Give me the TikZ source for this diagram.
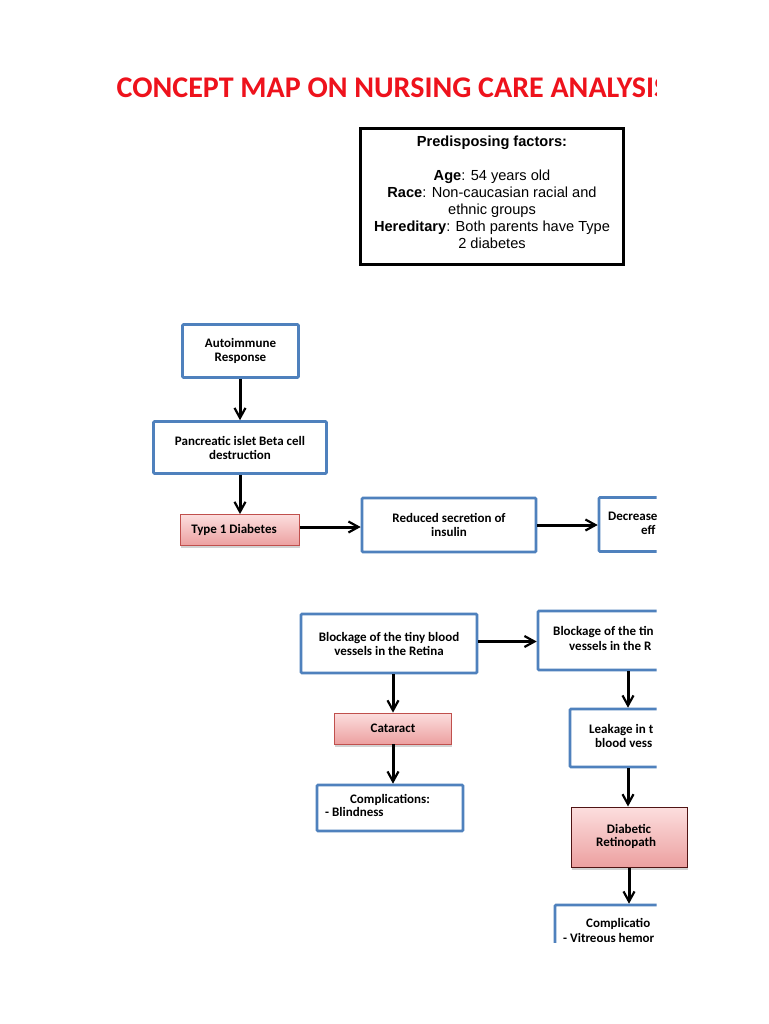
\documentclass[tikz,border=0pt]{standalone}
\usepackage{fontspec}
\setmainfont{Carlito}
\newfontfamily\arialf{Liberation Sans}
\newfontfamily\calf{Carlito}
\usetikzlibrary{arrows.meta,shadows,calc}
\definecolor{boxblue}{RGB}{79,129,189}
\definecolor{titlered}{RGB}{238,18,28}
\definecolor{pinktop}{RGB}{252,222,222}
\definecolor{pinkbot}{RGB}{236,160,160}
\definecolor{pinkedge}{RGB}{192,80,77}
\definecolor{drdark}{RGB}{80,20,20}
\begin{document}
\begin{tikzpicture}[x=1pt,y=-1pt,
  boxfont/.style={font=\calf\bfseries\fontsize{13}{14}\selectfont},
  bluebox/.style={draw=boxblue, line width=2.6pt, rounded corners=1pt, fill=white, inner sep=0pt, align=center, boxfont},
  pinkbox/.style={draw=pinkedge, line width=0.8pt, top color=pinktop, bottom color=pinkbot,
     drop shadow={shadow xshift=0.5pt, shadow yshift=-2.5pt, opacity=0.35}, inner sep=0pt, align=center, boxfont},
  lbl/.style={inner sep=0pt, anchor=west, text height=9pt, text depth=2.5pt, boxfont},
  arr/.style={line width=3pt, -{Straight Barb[length=10pt,width=11pt,line width=2.2pt]}}
]
\useasboundingbox (0,0) rectangle (768,1024);
\fill[white] (0,0) rectangle (768,1024);

% Diabetic Retinopathy box (extends past the cut edge)
\node[pinkbox, draw=drdark, line width=1pt, minimum width=116pt, minimum height=60pt] (dr) at (629,837) {};

\begin{scope}
\clip (0,0) rectangle (656.5,942.5);

\node[anchor=base west, inner sep=0pt, font=\calf\bfseries\fontsize{30}{36}\selectfont, text=titlered] (title) at (116.5,97.3) {CONCEPT MAP ON NURSING CARE ANALYSIS};

% predisposing factors
\node[draw=black, line width=3.4pt, minimum width=263pt, minimum height=136pt] (pred) at (492,196.5) {};
\node[align=center, inner sep=0pt, font=\arialf\fontsize{14.6}{17}\selectfont] (predtxt) at (492,192.5)
  {\textbf{Predisposing factors:}\\[17pt]\textbf{Age}: 54 years old\\\textbf{Race}: Non-caucasian racial and\\ethnic groups\\\textbf{Hereditary}: Both parents have Type\\2 diabetes};

% left chain
\node[bluebox, minimum width=116pt, minimum height=53pt] (auto) at (240.5,351) {Autoimmune\\Response};
\node[bluebox, minimum width=173pt, minimum height=52pt] (panc) at (240,447.5) {Pancreatic islet Beta cell\\destruction};
\node[pinkbox, minimum width=119pt, minimum height=31pt] (t1) at (240,530) {};
\node[boxfont, inner sep=0pt] (t1txt) at (234,529.5) {Type 1 Diabetes};
\node[bluebox, minimum width=174pt, minimum height=54pt] (red) at (449,525) {Reduced secretion of\\insulin};
\node[bluebox, minimum width=174pt, minimum height=54pt] (dec) at (686,524.5) {};
\node[lbl] (dec1) at (608,517) {Decrease};
\node[lbl] (dec2) at (641,531) {eff};

% middle chain
\node[bluebox, minimum width=176pt, minimum height=59pt] (blk1) at (389,643.5) {Blockage of the tiny blood\\vessels in the Retina};
\node[bluebox, minimum width=176pt, minimum height=59pt] (blk2) at (626,640.5) {};
\node[lbl] (blk2a) at (553,632.7) {Blockage of the tin};
\node[lbl] (blk2b) at (569,647) {vessels in the R};
\node[pinkbox, minimum width=117pt, minimum height=31pt] (cat) at (393,728.5) {Cataract};
\node[bluebox, minimum width=146pt, minimum height=46pt] (comp1) at (390,808) {};
\node[boxfont, inner sep=0pt] (comp1a) at (390,800) {Complications:};
\node[lbl] (comp1b) at (325,813) {- Blindness};

% right chain
\node[bluebox, minimum width=116pt, minimum height=58pt] (leak) at (628,738) {};
\node[lbl] (leaka) at (589,730) {Leakage in t};
\node[lbl] (leakb) at (595,744) {blood vess};
\node[boxfont, inner sep=0pt] (dra) at (629,829) {Diabetic};
\node[lbl] (drb) at (596,843) {Retinopath};
\node[bluebox, minimum width=146pt, minimum height=46pt] (comp2) at (628,928) {};
\node[lbl] (comp2a) at (586,924) {Complicatio};
\node[lbl] (comp2b) at (563,939) {- Vitreous hemor};

% connectors
\draw[arr] (auto.south -| panc.north) -- (panc.north);
\draw[arr] (panc.south) -- (panc.south |- t1.north);
\draw[arr] ([yshift=3pt]t1.east) -- ([yshift=3pt]t1.east -| red.west);
\draw[arr] (red.east) -- (red.east -| dec.west);
\draw[arr] ([yshift=2pt]blk1.east) -- ([yshift=2pt]blk1.east -| blk2.west);
\draw[arr] (cat.north |- blk1.south) -- (cat.north);
\draw[arr] (cat.south) -- (cat.south |- comp1.north);
\draw[arr] (leak.north |- blk2.south) -- (leak.north);
\draw[arr] (leak.south) -- (leak.south |- dr.north);
\draw[arr] (dr.south) -- (dr.south |- comp2.north);
\end{scope}
\end{tikzpicture}
\end{document}
